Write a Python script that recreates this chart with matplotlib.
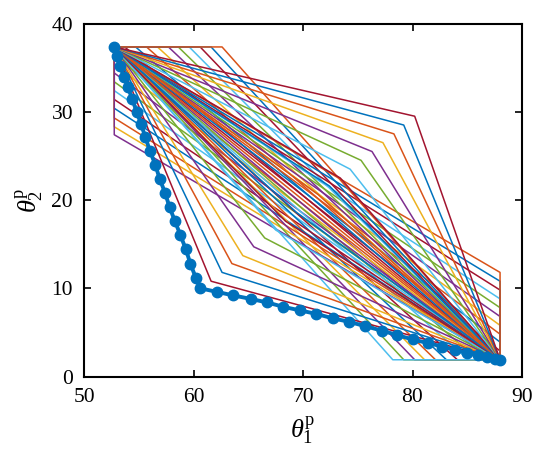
import matplotlib
matplotlib.use("Agg")
import matplotlib.pyplot as plt

plt.rcParams["font.family"] = ["Liberation Serif", "DejaVu Serif"]
plt.rcParams["mathtext.fontset"] = "custom"
plt.rcParams["mathtext.rm"] = "Liberation Serif"
plt.rcParams["mathtext.it"] = "Liberation Serif:italic"

matlab_colors = ["#0072BD", "#D95319", "#EDB120", "#7E2F8E", "#77AC30", "#4DBEEE", "#A2142F"]

# end points shared by every path
start_pt = (52.75, 37.35)
end_pt = (88.0, 1.9)

# knee points along the diagonal (bottom-left to top-right)
diag_x = [61.6, 62.6, 63.5, 64.5, 65.5, 66.5, 67.5, 68.4, 69.4, 70.4,
          71.4, 72.4, 73.4, 74.3, 75.3, 76.3, 77.3, 78.3, 79.2, 80.2]
diag_y = [10.8, 11.8, 12.8, 13.7, 14.7, 15.7, 16.6, 17.6, 18.6, 19.6,
          20.6, 21.6, 22.5, 23.5, 24.5, 25.5, 26.5, 27.5, 28.5, 29.5]

# knee points on the four edges
top_x = [53.7, 54.7, 55.7, 56.7, 57.7, 58.6, 59.6, 60.6, 61.6, 62.6]
left_y = [36.4, 35.4, 34.4, 33.4, 32.4, 31.4, 30.4, 29.3, 28.3, 27.4]
bottom_x = [87.0, 86.0, 85.1, 84.1, 83.1, 82.1, 81.1, 80.2, 79.2, 78.2]
right_y = [2.9, 3.9, 4.8, 5.8, 6.8, 7.8, 8.8, 9.8, 10.8, 11.8]

# pareto front
pareto_x = [52.75, 53.0, 53.3, 53.6, 54.0, 54.4, 54.8, 55.2, 55.6, 56.0,
            56.5, 56.9, 57.4, 57.8, 58.3, 58.8, 59.3, 59.7, 60.2, 60.6,
            62.1, 63.6, 65.2, 66.7, 68.2, 69.7, 71.2, 72.7, 74.2, 75.7,
            77.2, 78.6, 80.0, 81.4, 82.7, 83.9, 85.0, 86.0, 86.8, 87.5, 88.0]
pareto_y = [37.35, 36.3, 35.2, 34.0, 32.8, 31.4, 30.0, 28.6, 27.1, 25.6,
            24.0, 22.4, 20.8, 19.2, 17.6, 16.0, 14.4, 12.8, 11.2, 10.0,
            9.6, 9.2, 8.8, 8.4, 7.9, 7.5, 7.1, 6.6, 6.2, 5.7,
            5.2, 4.7, 4.2, 3.8, 3.4, 3.0, 2.7, 2.4, 2.2, 2.0, 1.9]

fig = plt.figure(figsize=(5.5, 4.62), dpi=100)
ax = fig.add_axes([0.153, 0.185, 0.796, 0.764])


def path(kx, ky, color):
    ax.plot([start_pt[0], kx, end_pt[0]], [start_pt[1], ky, end_pt[1]],
            color=color, lw=1.1)


for k in range(10):
    path(start_pt[0], left_y[k], matlab_colors[(k + 1) % 7])
    path(top_x[k], start_pt[1], matlab_colors[(k + 6) % 7])
    path(bottom_x[k], end_pt[1], matlab_colors[(k + 3) % 7])
    path(end_pt[0], right_y[k], matlab_colors[(k + 6) % 7])

for t in range(1, 21):
    ci = (t + 5) % 7 if t <= 10 else (26 - t) % 7
    path(diag_x[t - 1], diag_y[t - 1], matlab_colors[ci])

ax.plot(pareto_x, pareto_y, color="#0072BD", lw=2.8, marker="o", ms=7.5, zorder=5)

ax.set_xlim(50, 90)
ax.set_ylim(0, 40)
ax.set_xticks([50, 60, 70, 80, 90])
ax.set_yticks([0, 10, 20, 30, 40])
ax.tick_params(direction="in", top=True, right=True, length=5, width=1.2,
               labelsize=15.5, pad=8)
for s in ax.spines.values():
    s.set_linewidth(1.5)
ax.set_xlabel(r"$\theta_1^{\mathrm{p}}$", fontsize=19, labelpad=6)
ax.set_ylabel(r"$\theta_2^{\mathrm{p}}$", fontsize=19, labelpad=4)

fig.savefig("out.png", dpi=100)
